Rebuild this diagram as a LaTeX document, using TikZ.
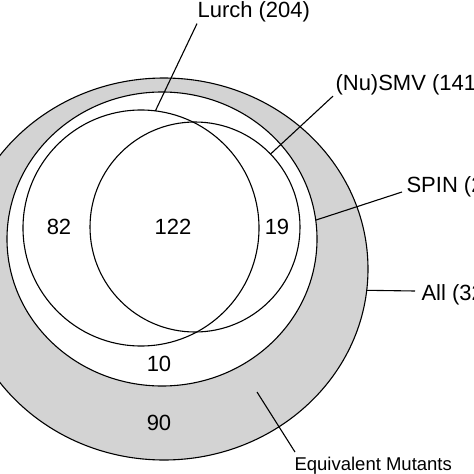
\documentclass[tikz,border=0pt]{standalone}
\usepackage{fontspec}
\setmainfont{Liberation Sans}
\usetikzlibrary{shapes.geometric}
\definecolor{cShade}{RGB}{211,211,211}

\begin{document}
\begin{tikzpicture}[x=1pt, y=-1pt, line width=1.1pt,
  set/.style={ellipse, draw, inner sep=0pt, outer sep=0pt},
  lbl/.style={font=\fontsize{22}{24}\selectfont, inner sep=0pt, anchor=base west},
  num/.style={font=\fontsize{22}{24}\selectfont, inner sep=0pt, anchor=base}]
  \clip (0,0) rectangle (474,474);
  % sets
  \node[set, fill=cShade, minimum width=408pt, minimum height=382pt] (all) at (164,269) {};
  \node[set, fill=white, minimum width=310pt, minimum height=294pt] (spin) at (162,239) {};
  \node[set, minimum size=236pt] (lurch) at (141,228) {};
  \node[set, minimum size=210pt] (smv) at (195,227) {};
  % counts
  \node[num] (n82) at (59,234) {82};
  \node[num] (n122) at (173,234) {122};
  \node[num] (n19) at (277,234) {19};
  \node[num] (n10) at (159,371) {10};
  \node[num] (n90) at (159,430) {90};
  % labels
  \node[lbl] (lurchlbl) at (197,17) {Lurch (204)};
  \node[lbl] (smvlbl) at (335,90) {(Nu)SMV (141)};
  \node[lbl] (spinlbl) at (406,192) {SPIN (233)};
  \node[lbl] (alllbl) at (421,300) {All (323)};
  \node[lbl, font=\fontsize{18.5}{21}\selectfont] (eqlbl) at (294,470) {Equivalent Mutants};
  \coordinate (eqpt) at (257,392);
  \draw ([yshift=-1.5pt]lurchlbl.south west) -- (lurch.83);
  \draw ([xshift=-2pt,yshift=-1pt]smvlbl.south west) -- (smv.44);
  \draw ([xshift=-4pt]spinlbl.base west) -- (spin.7);
  \draw ([xshift=-6pt,yshift=9pt]alllbl.base west) -- (all.-6);
  \draw ([xshift=1pt,yshift=4pt]eqlbl.north west) -- (eqpt);
\end{tikzpicture}
\end{document}
